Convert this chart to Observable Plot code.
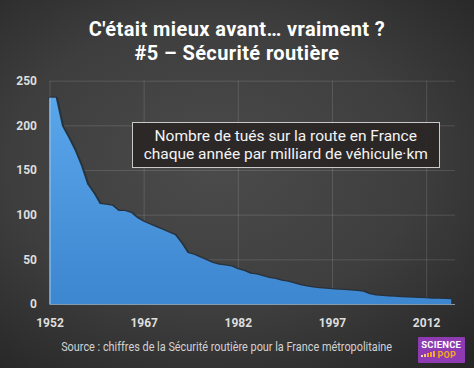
<!DOCTYPE html>
<html><head><meta charset="utf-8">
<script src="https://cdn.jsdelivr.net/npm/d3@7"></script>
<script src="https://cdn.jsdelivr.net/npm/@observablehq/plot@0.6"></script>
<style>
html,body{margin:0;padding:0;}
body{width:474px;height:368px;overflow:hidden;background:#333;}
#wrap{position:relative;width:474px;height:368px;overflow:hidden;
  background:radial-gradient(ellipse 78% 72% at 45% 45%, #4b4b4b 0%, #3e3e3e 55%, #262626 100%);
  font-family:Roboto,"DejaVu Sans",sans-serif;}
#title{position:relative;height:70px;color:#fff;font-weight:700;font-size:20px;letter-spacing:0.4px;}
#title .t{position:absolute;left:0;top:17px;width:474px;text-align:center;line-height:24px;}
#chart svg{display:block;}
#note{position:absolute;left:131.5px;top:122px;width:308.5px;height:46px;box-sizing:border-box;
  border:1.5px solid #c9c9c9;background:rgba(42,38,38,0.93);color:#f4f4f4;font-size:15.5px;
  line-height:18.5px;text-align:center;padding-top:3.6px;}
#src{position:absolute;left:0;top:339px;width:454px;text-align:center;color:#d2d2d2;font-size:13px;line-height:16px;white-space:nowrap;}
#src span{display:inline-block;transform-origin:center;}
#logo{position:absolute;left:417.5px;top:337px;width:47.5px;height:25.5px;background:#8d3ab3;border-radius:1px;}
#logo .s{position:absolute;left:0;top:2px;width:47.5px;text-align:center;color:#fff;font-weight:700;font-size:9.5px;line-height:11px;letter-spacing:0.2px;}
#logo .p{position:absolute;left:20px;top:12.5px;color:#f4a52c;font-weight:700;font-size:9px;line-height:11px;letter-spacing:0.3px;}
#logo .b{position:absolute;bottom:6px;width:2px;background:#f4a52c;}
</style></head>
<body>
<div id="wrap">
  <div id="title"><div class="t">C'était mieux avant… vraiment ?<br>#5 – Sécurité routière</div></div>
  <div id="chart"></div>
  <div id="note">Nombre de tués sur la route en France<br>chaque année par milliard de véhicule·km</div>
  <div id="src"><span>Source : chiffres de la Sécurité routière pour la France métropolitaine</span></div>
  <div id="logo">
    <div class="s">SCIENCE</div>
    <div class="b" style="left:3px;height:2px;background:#f7d9a0"></div>
    <div class="b" style="left:6px;height:3px;background:#f7c87a"></div>
    <div class="b" style="left:9px;height:4px"></div>
    <div class="b" style="left:12px;height:5px"></div>
    <div class="b" style="left:15px;height:6px"></div>
    <div class="p">POP</div>
  </div>
</div>
<script>
const years = [1952,1953,1954,1955,1956,1957,1958,1959,1960,1961,1962,1963,1964,1965,1966,1967,1968,1969,1970,1971,
  1972,1973,1974,1975,1976,1977,1978,1979,1980,1981,1982,1983,1984,1985,1986,1987,1988,1989,1990,1991,
  1992,1993,1994,1995,1996,1997,1998,1999,2000,2001,2002,2003,2004,2005,2006,2007,2008,2009,2010,2011,
  2012,2013,2014,2015,2016];
const deaths = [231,231,199,186,172,155,134,124,112,111,110,104,104,102,96,92,89,86,83,80,
  77,68,57,55,52,49,46,44,43,42,39,37,34,33,31,29,28,26,25,23,
  21,19.5,18.5,17.5,17,16.5,16,15.7,15,14.5,13.8,11,9.5,9,8.5,8,7.5,7.3,7,6.8,
  6.5,6,5.8,5.6,5.4];
const xTicks = [1952,1967,1982,1997,2012];
const yTicks = [0,50,100,150,200,250];

const data = years.map((y,i) => ({year:y, value:deaths[i]}));

const defs = () => {
  const d = d3.create("svg:defs");
  const g = d.append("linearGradient").attr("id","areaGrad").attr("x1",0).attr("x2",0).attr("y1",0).attr("y2",1);
  g.append("stop").attr("offset","0%").attr("stop-color","#5aa6ea");
  g.append("stop").attr("offset","100%").attr("stop-color","#3d86d0");
  return d.node();
};

const chart = Plot.plot({
  width: 474, height: 262,
  marginLeft: 49.5, marginRight: 19, marginTop: 10.7, marginBottom: 28,
  x: {domain: [1952, 2016.6], ticks: xTicks, tickFormat: d => String(d), tickSize: 0, tickPadding: 14, label: null},
  y: {domain: [0, 250], ticks: yTicks, tickSize: 0, tickPadding: 13, label: null},
  style: {background: "transparent", color: "#dedede", fontFamily: "Roboto, sans-serif", fontSize: "12px", fontWeight: "bold", overflow: "visible"},
  marks: [
    defs,
    Plot.ruleY(yTicks, {stroke: "#ffffff", strokeOpacity: 0.13}),
    Plot.ruleX(xTicks, {stroke: "#ffffff", strokeOpacity: 0.13}),
    Plot.lineY(data, {x: "year", y: "value", stroke: "#24303c", strokeWidth: 3.5, strokeOpacity: 0.85}),
    Plot.areaY(data, {x: "year", y: "value", fill: "url(#areaGrad)"}),
    Plot.ruleX([1952], {y1: 0, y2: 231, stroke: "#8fc2ef", strokeWidth: 1.2}),
    Plot.ruleY([0], {stroke: "#a9c9e6", strokeOpacity: 0.6})
  ]
});
document.getElementById("chart").appendChild(chart);

// fit the condensed-looking caption to its width in the reference
const sp = document.querySelector("#src span");
const w = sp.getBoundingClientRect().width;
sp.style.transform = `scaleX(${331 / w})`;
</script>
</body></html>
